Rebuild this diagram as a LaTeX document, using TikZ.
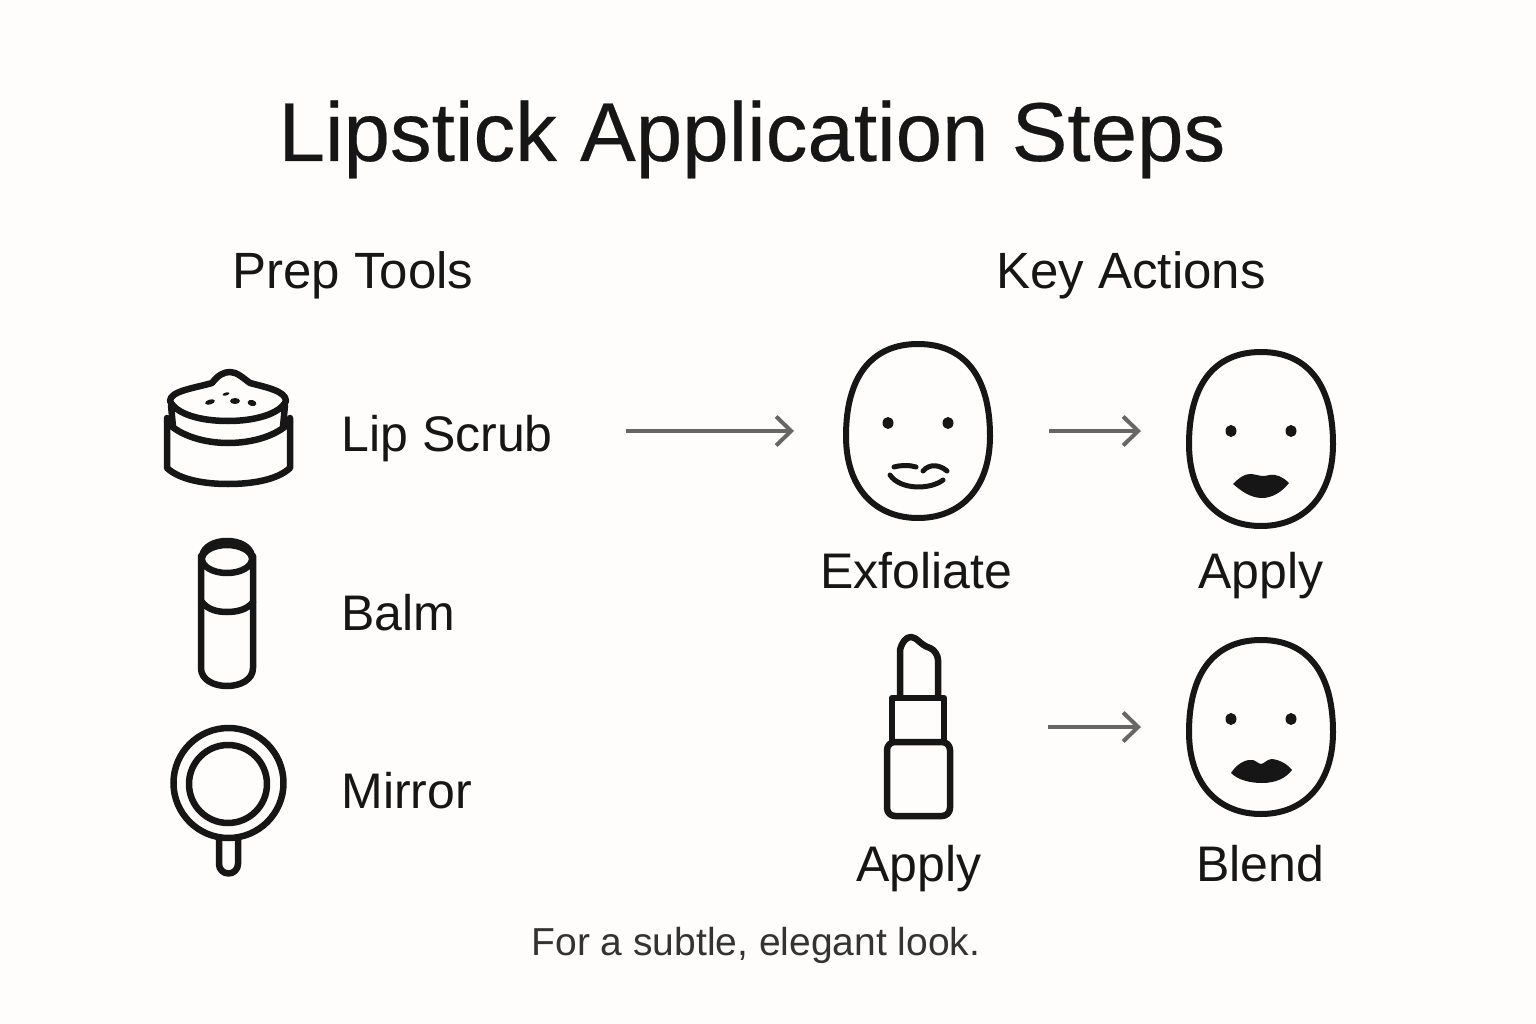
\documentclass[tikz,border=0pt]{standalone}
\usepackage{fontspec}
\setmainfont{Liberation Sans}
\newfontfamily\titlefont[FakeBold=0.25]{Liberation Sans}
\usetikzlibrary{positioning, arrows.meta}
\definecolor{paper}{HTML}{FEFDFB}
\definecolor{ink}{HTML}{161616}
\definecolor{flowgray}{HTML}{666666}
\definecolor{notegray}{HTML}{333333}
\tikzset{
	outline/.style={draw=ink, line width=6.5pt, line cap=round, line join=round},
	thinstroke/.style={outline, line width=6pt},
	mouthstroke/.style={outline, line width=5pt},
	flow/.style={draw=flowgray, line width=4pt, -{Straight Barb[length=15pt, width=29pt, line width=4pt]}},
	iconbox/.style={inner sep=0pt, outer sep=0pt, draw=none},
	heading/.style={text=ink, anchor=base, font=\fontsize{51}{60}\selectfont},
	itemlabel/.style={text=ink, anchor=base, font=\fontsize{50}{60}\selectfont},
	headshape/.pic={
		\draw[thinstroke] (-72,5) .. controls (-72,-55) and (-46,-87) .. (0,-87)
			.. controls (46,-87) and (72,-55) .. (72,5)
			.. controls (72,58) and (42,87) .. (0,87)
			.. controls (-42,87) and (-72,58) .. (-72,5) -- cycle;
		\fill[ink] (-30,-8) ellipse (5.5 and 6);
		\fill[ink] (30,-8) ellipse (5.5 and 6);
	}
}
\begin{document}
\begin{tikzpicture}[x=1pt, y=-1pt, node distance=100pt, on grid]
	\useasboundingbox[fill=paper] (0,0) rectangle (1536,1024);

	\node[text=ink, anchor=base, font=\titlefont\fontsize{83.5}{90}\selectfont] (title) at (752,161) {Lipstick Application Steps};
	\node[heading] (prep) at (353,288) {Prep Tools};
	\node[heading] (actions) at (1131,288) {Key Actions};

	\node[itemlabel, anchor=base west] (scrub) at (338,451) {Lip Scrub};
	\node[itemlabel, anchor=base west] (balm) at (338,630) {Balm};
	\node[itemlabel, anchor=base west] (mirror) at (338,808) {Mirror};

	\node[iconbox, minimum width=146pt, minimum height=174pt] (face1) at (918,431) {};
	\node[iconbox, minimum width=146pt, minimum height=174pt] (face2) at (1261,439) {};
	\node[iconbox, minimum width=146pt, minimum height=174pt] (face3) at (1261,727) {};
	\node[iconbox, minimum width=64pt, minimum height=180pt] (stick) at (918,727) {};

	\node[itemlabel] (exfoliate) at (916,588) {Exfoliate};
	\node[itemlabel] (apply1) at (1261,588) {Apply};
	\node[itemlabel] (apply2) at (919,881) {Apply};
	\node[itemlabel] (blend) at (1260,881) {Blend};
	\node[text=notegray, anchor=base, font=\fontsize{39}{46}\selectfont] (note) at (756,955) {For a subtle, elegant look.};

	\pic at (face1) {headshape};
	\pic at (face2) {headshape};
	\pic at (face3) {headshape};

	\draw[flow, shorten <=70pt, shorten >=51pt] (scrub.east |- face1) -- (face1.west);
	\draw[flow, shorten <=58pt, shorten >=47pt] (face1.east) -- (face2.west |- face1);
	\draw[flow, shorten <=98pt, shorten >=47pt] (stick.east |- face3) -- (face3.west);

	% mouths
	\draw[mouthstroke] (894,467) .. controls (901,465) and (910,465) .. (916,467);
	\draw[mouthstroke] (923,471) .. controls (930,463) and (940,465) .. (947,471);
	\draw[mouthstroke] (890,475) .. controls (900,490) and (930,490) .. (943,480);
	\fill[ink] (1233,484) .. controls (1239,478) and (1244,474) .. (1250,474)
		.. controls (1255,474) and (1259,476) .. (1263,476)
		.. controls (1267,476) and (1271,474) .. (1275,475)
		.. controls (1281,476) and (1286,480) .. (1289,483)
		.. controls (1282,492) and (1272,498) .. (1262,498)
		.. controls (1250,498) and (1240,490) .. (1233,484) -- cycle;
	\fill[ink] (1231,773) .. controls (1236,765) and (1244,760) .. (1250,760)
		.. controls (1255,759) and (1258,764) .. (1261,764)
		.. controls (1264,764) and (1267,759) .. (1272,759)
		.. controls (1281,760) and (1288,765) .. (1292,770)
		.. controls (1286,778) and (1276,783) .. (1262,783)
		.. controls (1250,783) and (1238,780) .. (1231,773) -- cycle;

	% jar
	\draw[outline] (170,401) .. controls (170,391) and (195,388) .. (212,383)
		.. controls (218,375) and (224,372) .. (230,372)
		.. controls (237,372) and (243,378) .. (250,383)
		.. controls (265,387) and (286,391) .. (286,401)
		.. controls (280,414) and (255,421) .. (228,421)
		.. controls (200,421) and (176,414) .. (170,401) -- cycle;
	\draw[outline] (171,405) -- (173,427);
	\draw[outline] (285,405) -- (283,427);
	\draw[outline] (167,422) .. controls (180,436) and (205,443) .. (228,443)
		.. controls (252,443) and (277,436) .. (290,422);
	\draw[outline] (167,418) -- (167,468) .. controls (180,480) and (205,484) .. (228,484)
		.. controls (252,484) and (277,480) .. (290,468) -- (290,418);
	\fill[ink, rotate around={15:(210,402)}] (210,402) ellipse (5 and 2.5);
	\fill[ink, rotate around={15:(226,394)}] (226,394) ellipse (3.5 and 1.5);
	\fill[ink] (235,401) ellipse (5 and 3);
	\fill[ink, rotate around={-15:(252,403)}] (252,403) ellipse (4.5 and 3);

	% balm
	\draw[outline] (227,559) ellipse (25 and 14);
	\draw[outline] (202,556) .. controls (204,546) and (215,541) .. (227,541)
		.. controls (239,541) and (250,546) .. (252,556);
	\draw[outline] (202,602) .. controls (208,610) and (218,612) .. (227,612)
		.. controls (236,612) and (247,610) .. (253,602);
	\draw[outline] (201,556) -- (201,668) .. controls (201,680) and (214,686) .. (227,686)
		.. controls (240,686) and (253,680) .. (253,668) -- (253,556);

	% mirror
	\draw[outline] (228.5,783) circle (55);
	\draw[outline] (228,784) circle (39);
	\draw[outline] (219,840) -- (219,864) arc (180:0:9.5) -- (238,840);

	% lipstick
	\draw[outline] (900,697) -- (900,650) .. controls (902,642) and (906,637) .. (911,637)
		.. controls (917,637) and (920,645) .. (930,648)
		.. controls (935,650) and (938,656) .. (938,660) -- (938,697);
	\draw[outline] (892,742) -- (892,698) -- (944,698) -- (944,742);
	\draw[outline, rounded corners=8pt] (887,742) -- (950,742) -- (950,816) -- (887,816) -- cycle;
\end{tikzpicture}
\end{document}
